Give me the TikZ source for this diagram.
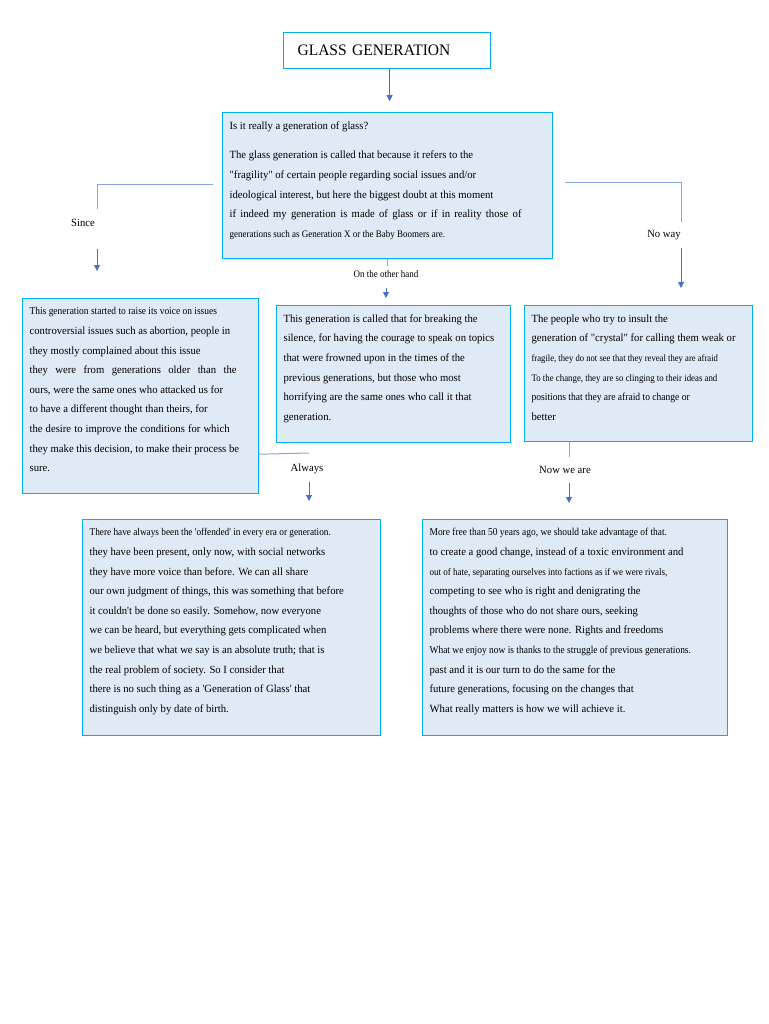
\documentclass[tikz,border=0pt]{standalone}
\usepackage{fontspec}
\usetikzlibrary{arrows.meta}

\newfontfamily\glassfont{Liberation Serif}[FakeStretch=0.97]
\newfontfamily\narrowfont{Liberation Serif}[FakeStretch=0.9]

\definecolor{boxline}{RGB}{0,176,240}
\definecolor{boxfill}{RGB}{222,234,246}
\definecolor{linkline}{RGB}{135,165,222}
\definecolor{arrowline}{RGB}{68,114,196}

\newcommand{\narrowline}[2][10.5]{{\narrowfont\fontsize{#1}{19.6}\selectfont #2}}
\newcommand{\spreadline}[2]{\makebox[#1][s]{#2}}
\newcommand{\boxtext}[3]{\parbox[t][#2][t]{#1}{\glassfont\fontsize{11}{19.6}\selectfont\raggedright #3}}

\begin{document}
\begin{tikzpicture}[
      x = 1pt, y = -1pt,
      box/.style = {
        rectangle,
        draw = boxline, line width = 1.2pt,
        fill = boxfill,
        anchor = north west,
        inner xsep = 7pt,
        inner ysep = 9pt,
      },
      titlebox/.style = {
        rectangle,
        draw = boxline, line width = 1.2pt,
        fill = white,
        anchor = north west,
        align = left,
        text width = 179pt,
        inner xsep = 14pt,
        minimum height = 36pt,
        font = \glassfont\fontsize{16}{18}\selectfont,
      },
      tag/.style = {
        inner sep = 1pt,
        font = \glassfont\fontsize{11}{13}\selectfont,
      },
      link/.style = {
        draw = linkline, line width = 1pt,
      },
    ]
    \fill[white] (0,0) rectangle (768,1024);
    \useasboundingbox (0,0) rectangle (768,1024);

    \node[titlebox] (title) at (283,32) {GLASS GENERATION};

    \node[box] (central) at (222,112) {\boxtext{316pt}{128pt}{%
      Is it really a generation of glass?\\[10pt]
      The glass generation is called that because it refers to the\\
      "fragility" of certain people regarding social issues and/or\\
      ideological interest, but here the biggest doubt at this moment\\
      \spreadline{292pt}{if indeed my generation is made of glass or if in reality those of}\\
      \narrowline[10]{generations such as Generation X or the Baby Boomers are.}}};

    \node[box] (left) at (22,298) {\boxtext{222pt}{177pt}{%
      \narrowline{This generation started to raise its voice on issues}\\
      controversial issues such as abortion, people in\\
      they mostly complained about this issue\\
      \spreadline{207pt}{they were from generations older than the}\\
      ours, were the same ones who attacked us for\\
      to have a different thought than theirs, for\\
      \spreadline{200pt}{the desire to improve the conditions for which}\\
      they make this decision, to make their process be\\
      sure.}};

    \node[box] (middle) at (276,305) {\boxtext{220pt}{119pt}{%
      This generation is called that for breaking the\\
      silence, for having the courage to speak on topics\\
      that were frowned upon in the times of the\\
      previous generations, but those who most\\
      horrifying are the same ones who call it that\\
      generation.}};

    \node[box] (right) at (524,305) {\boxtext{214pt}{118pt}{%
      The people who try to insult the\\
      generation of "crystal" for calling them weak or\\
      \narrowline[9.6]{fragile, they do not see that they reveal they are afraid}\\
      \narrowline[9.8]{To the change, they are so clinging to their ideas and}\\
      \narrowline[10.6]{positions that they are afraid to change or}\\
      better}};

    \node[box] (always) at (82,519) {\boxtext{284pt}{198pt}{%
      \narrowline[10.3]{There have always been the 'offended' in every era or generation.}\\
      they have been present, only now, with social networks\\
      they have more voice than before. We can all share\\
      our own judgment of things, this was something that before\\
      it couldn't be done so easily. Somehow, now everyone\\
      we can be heard, but everything gets complicated when\\
      we believe that what we say is an absolute truth; that is\\
      the real problem of society. So I consider that\\
      there is no such thing as a 'Generation of Glass' that\\
      distinguish only by date of birth.}};

    \node[box] (nowwe) at (422,519) {\boxtext{291pt}{198pt}{%
      \narrowline{More free than 50 years ago, we should take advantage of that.}\\
      to create a good change, instead of a toxic environment and\\
      \narrowline[10]{out of hate, separating ourselves into factions as if we were rivals,}\\
      competing to see who is right and denigrating the\\
      thoughts of those who do not share ours, seeking\\
      problems where there were none. Rights and freedoms\\
      \narrowline{What we enjoy now is thanks to the struggle of previous generations.}\\
      past and it is our turn to do the same for the\\
      future generations, focusing on the changes that\\
      What really matters is how we will achieve it.}};

    \node[tag] (since) at (83,223) {Since};
    \node[tag] (noway) at (664,235) {No way};
    \node[tag, font = \narrowfont\fontsize{10}{12}\selectfont] (otherhand) at (386,274) {On the other hand};
    \node[tag] (alwaystag) at (307,469) {Always};
    \node[tag] (nowtag) at (565,470) {Now we are};

    \coordinate (sinceA) at (213,185);
    \coordinate (sinceB) at (97,209);
    \coordinate (sinceC) at (97,249);
    \coordinate (sinceD) at (97,271);
    \coordinate (nowayA) at (565,183);
    \coordinate (nowayB) at (681,222);
    \coordinate (nowayC) at (681,248);
    \coordinate (nowayD) at (681,288);
    \coordinate (otherC) at (386,288);
    \coordinate (otherD) at (386,298);
    \coordinate (alwaysB) at (309,453);
    \coordinate (alwaysC) at (309,482);
    \coordinate (alwaysD) at (309,501);
    \coordinate (nowA) at ([xshift=45pt]right.south west);
    \coordinate (nowC) at (569,483);
    \coordinate (nowD) at (569,503);

    \draw[link] (sinceA) -| (sinceB);
    \draw[link] (nowayA) -| (nowayB);
    \draw[link] (central.south) -- ++(0,7);
    \draw[link] ([yshift=40pt]left.south east) -- (alwaysB);
    \draw[link] (nowA) -- ++(0,15);

    \begin{scope}[line width = 1pt, arrowline, -{Triangle[length = 6pt, width = 6pt]}]
      \draw ([xshift=2.5pt]title.south) -- ++(0,32);
      \draw (sinceC) -- (sinceD);
      \draw (nowayC) -- (nowayD);
      \draw (otherC) -- (otherD);
      \draw (alwaysC) -- (alwaysD);
      \draw (nowC) -- (nowD);
    \end{scope}

  \end{tikzpicture}
\end{document}
